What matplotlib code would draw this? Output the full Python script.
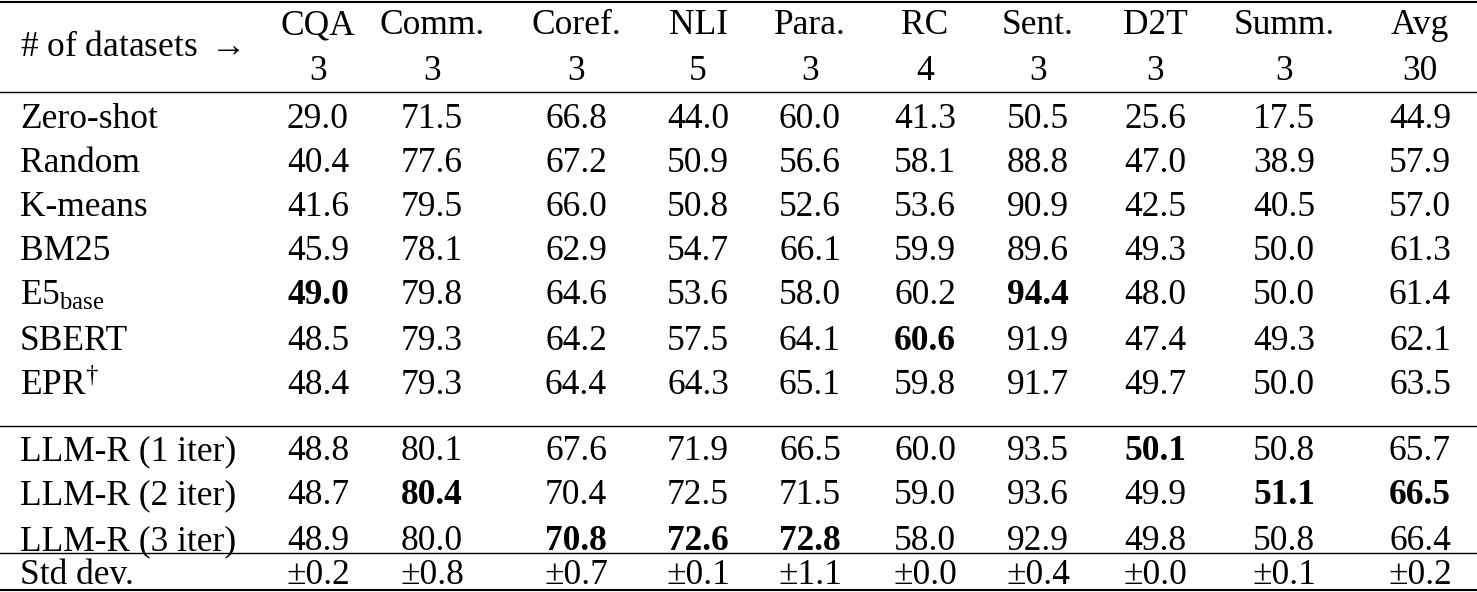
import matplotlib
matplotlib.use("Agg")
import matplotlib.pyplot as plt

plt.rcParams['font.family'] = ['Liberation Serif', 'DejaVu Serif']
plt.rcParams['mathtext.fontset'] = 'custom'
plt.rcParams['mathtext.rm'] = 'Liberation Serif'
plt.rcParams['mathtext.it'] = 'Liberation Serif:italic'
plt.rcParams['mathtext.bf'] = 'Liberation Serif:bold'

tasks = ["CQA", "Comm.", "Coref.", "NLI", "Para.", "RC", "Sent.", "D2T", "Summ.", "Avg"]
counts = ["3", "3", "3", "5", "3", "4", "3", "3", "3", "30"]
methods = ["Zero-shot", "Random", "K-means", "BM25", r"E5$_{\mathrm{base}}$", "SBERT", r"EPR$^{\dagger}$",
           "LLM-R (1 iter)", "LLM-R (2 iter)", "LLM-R (3 iter)"]
values = [
    [29.0, 71.5, 66.8, 44.0, 60.0, 41.3, 50.5, 25.6, 17.5, 44.9],
    [40.4, 77.6, 67.2, 50.9, 56.6, 58.1, 88.8, 47.0, 38.9, 57.9],
    [41.6, 79.5, 66.0, 50.8, 52.6, 53.6, 90.9, 42.5, 40.5, 57.0],
    [45.9, 78.1, 62.9, 54.7, 66.1, 59.9, 89.6, 49.3, 50.0, 61.3],
    [49.0, 79.8, 64.6, 53.6, 58.0, 60.2, 94.4, 48.0, 50.0, 61.4],
    [48.5, 79.3, 64.2, 57.5, 64.1, 60.6, 91.9, 47.4, 49.3, 62.1],
    [48.4, 79.3, 64.4, 64.3, 65.1, 59.8, 91.7, 49.7, 50.0, 63.5],
    [48.8, 80.1, 67.6, 71.9, 66.5, 60.0, 93.5, 50.1, 50.8, 65.7],
    [48.7, 80.4, 70.4, 72.5, 71.5, 59.0, 93.6, 49.9, 51.1, 66.5],
    [48.9, 80.0, 70.8, 72.6, 72.8, 58.0, 92.9, 49.8, 50.8, 66.4],
]
std_dev = [0.2, 0.8, 0.7, 0.1, 1.1, 0.0, 0.4, 0.0, 0.1, 0.2]

W, H = 1477, 592
fig = plt.figure(figsize=(W / 100, H / 100), dpi=100)
ax = fig.add_axes([0, 0, 1, 1])
ax.set_xlim(0, W)
ax.set_ylim(H, 0)
ax.axis('off')

fs = 25.5
col_x = [318, 432, 576, 698, 810, 925, 1038, 1155, 1284, 1420]
left_x = 20
row_y = [115, 159, 203, 248, 292, 337, 382, 448, 492, 538]
va = 'center_baseline'

ax.text(left_x, 44, r"# of datasets $\rightarrow$", fontsize=fs, va=va, ha='left')
for x, t, c in zip(col_x, tasks, counts):
    ax.text(x, 22, t, fontsize=fs, ha='center', va=va)
    ax.text(x, 68, c, fontsize=fs, ha='center', va=va)

best = [max(values[r][c] for r in range(len(values))) for c in range(len(tasks))]
for r, (m, y) in enumerate(zip(methods, row_y)):
    ax.text(left_x, y, m, fontsize=fs, ha='left', va=va)
    for c, x in enumerate(col_x):
        v = values[r][c]
        bold = abs(v - best[c]) < 1e-9
        ax.text(x, y, f"{v:.1f}", fontsize=fs, ha='center', va=va,
                fontweight='bold' if bold else 'normal')

ax.text(left_x, 571, "Std dev.", fontsize=fs, ha='left', va=va)
for c, x in enumerate(col_x):
    ax.text(x, 571, f"±{std_dev[c]:.1f}", fontsize=fs, ha='center', va=va)

for y, lw in [(1.5, 1.5), (92, 1.0), (426, 1.0), (553, 1.0), (590, 1.5)]:
    ax.plot([0, W], [y, y], color='black', lw=lw)

fig.savefig("out.png", dpi=100)
